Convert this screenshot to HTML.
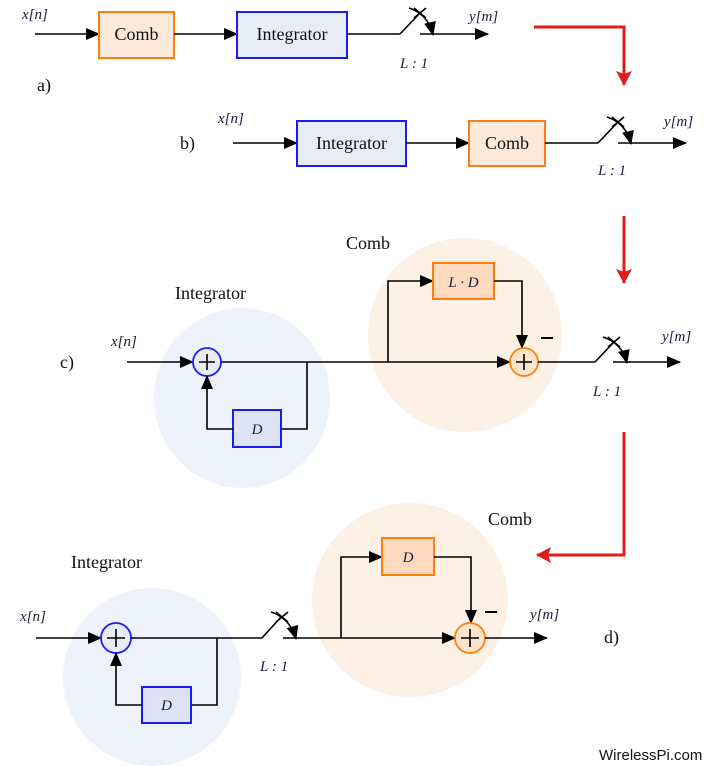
<!DOCTYPE html>
<html><head><meta charset="utf-8"><style>
html,body{margin:0;padding:0;background:#fff;}
svg{display:block;}
text{font-family:"Liberation Serif","DejaVu Serif",serif;fill:#111;}
.m{font-style:italic;fill:#1a1a3a;}
</style></head><body>
<svg width="709" height="766" viewBox="0 0 709 766" xmlns="http://www.w3.org/2000/svg">
<defs>
<marker id="a" markerWidth="14" markerHeight="12" refX="13" refY="6" orient="auto" markerUnits="userSpaceOnUse"><path d="M0,0 L14,6 L0,12 z" fill="#000"/></marker>
<marker id="r" markerWidth="16" markerHeight="16" refX="14" refY="8" orient="auto" markerUnits="userSpaceOnUse"><path d="M0,0 L15,8 L0,16 L3,8 z" fill="#e01b1b"/></marker>
</defs>
<g stroke="#000" stroke-width="1.6" fill="none">
<ellipse cx="242" cy="398" rx="88" ry="90" fill="#eef2fa" stroke="none"/>
<ellipse cx="465" cy="335" rx="97" ry="97" fill="#fdf0e4" stroke="none"/>
<ellipse cx="152" cy="677" rx="89" ry="89" fill="#eef2fa" stroke="none"/>
<ellipse cx="410" cy="600" rx="98" ry="97" fill="#fdf0e4" stroke="none"/>

<line x1="35" y1="34" x2="99" y2="34" marker-end="url(#a)"/>
<rect x="99" y="12" width="75" height="46" fill="#fde9d9" stroke="#ff7f0e" stroke-width="2"/>
<line x1="174" y1="34" x2="237" y2="34" marker-end="url(#a)"/>
<rect x="237" y="12" width="110" height="46" fill="#e8ecf7" stroke="#1c1cf0" stroke-width="2"/>
<line x1="347" y1="34" x2="400" y2="34"/>
<line x1="400" y1="34" x2="420" y2="13"/>
<path d="M414,8 L426,18 M426,8 L414,18"/>
<path d="M409,8 Q428,14 433,35" marker-end="url(#a)"/>
<line x1="420" y1="34" x2="488" y2="34" marker-end="url(#a)"/>

<line x1="233" y1="143" x2="297" y2="143" marker-end="url(#a)"/>
<rect x="297" y="121" width="109" height="45" fill="#e8ecf7" stroke="#1c1cf0" stroke-width="2"/>
<line x1="406" y1="143" x2="469" y2="143" marker-end="url(#a)"/>
<rect x="469" y="121" width="76" height="45" fill="#fde9d9" stroke="#ff7f0e" stroke-width="2"/>
<line x1="545" y1="143" x2="598" y2="143"/>
<line x1="598" y1="143" x2="618" y2="122"/>
<path d="M612,117 L624,127 M624,117 L612,127"/>
<path d="M607,117 Q626,123 631,144" marker-end="url(#a)"/>
<line x1="618" y1="143" x2="686" y2="143" marker-end="url(#a)"/>

<g stroke="#e01b1b" stroke-width="3">
<polyline points="534,27 624,27 624,85" marker-end="url(#r)"/>
<line x1="624" y1="216" x2="624" y2="283" marker-end="url(#r)"/>
<polyline points="624,432 624,555 537,555" marker-end="url(#r)"/>
</g>

<line x1="127" y1="362" x2="193" y2="362" marker-end="url(#a)"/>
<circle cx="207" cy="362" r="14" fill="#e8ecf7" stroke="#1c1cf0" stroke-width="1.8"/>
<path d="M199,362 H215 M207,354 V370"/>
<line x1="221" y1="362" x2="510" y2="362" marker-end="url(#a)"/>
<polyline points="307,362 307,429 281,429"/>
<rect x="233" y="410" width="48" height="37" fill="#dde3f3" stroke="#1c1cf0" stroke-width="2"/>
<polyline points="233,429 207,429 207,376" marker-end="url(#a)"/>
<polyline points="388,362 388,281 433,281" marker-end="url(#a)"/>
<rect x="433" y="263" width="61" height="36" fill="#fdd9bd" stroke="#ff7f0e" stroke-width="2"/>
<polyline points="494,281 522,281 522,348" marker-end="url(#a)"/>
<circle cx="524" cy="362" r="14" fill="#fde3cc" stroke="#ff7f0e" stroke-width="1.8"/>
<path d="M516,362 H532 M524,354 V370"/>
<line x1="541" y1="338" x2="553" y2="338" stroke-width="2"/>
<line x1="538" y1="362" x2="595" y2="362"/>
<line x1="595" y1="362" x2="614" y2="342"/>
<path d="M608,337 L620,347 M620,337 L608,347"/>
<path d="M603,337 Q622,343 627,363" marker-end="url(#a)"/>
<line x1="613" y1="362" x2="680" y2="362" marker-end="url(#a)"/>

<line x1="36" y1="638" x2="101" y2="638" marker-end="url(#a)"/>
<circle cx="116" cy="638" r="15" fill="#e8ecf7" stroke="#1c1cf0" stroke-width="1.8"/>
<path d="M107,638 H125 M116,629 V647"/>
<line x1="131" y1="638" x2="262" y2="638"/>
<polyline points="217,638 217,705 191,705"/>
<rect x="142" y="687" width="49" height="36" fill="#dde3f3" stroke="#1c1cf0" stroke-width="2"/>
<polyline points="142,705 116,705 116,653" marker-end="url(#a)"/>
<line x1="262" y1="638" x2="281" y2="617"/>
<path d="M276,612 L288,622 M288,612 L276,622"/>
<path d="M271,612 Q290,618 296,639" marker-end="url(#a)"/>
<line x1="283" y1="638" x2="455" y2="638" marker-end="url(#a)"/>
<polyline points="341,638 341,557 382,557" marker-end="url(#a)"/>
<rect x="382" y="538" width="52" height="37" fill="#fdd9bd" stroke="#ff7f0e" stroke-width="2"/>
<polyline points="434,557 471,557 471,623" marker-end="url(#a)"/>
<circle cx="470" cy="638" r="15" fill="#fde3cc" stroke="#ff7f0e" stroke-width="1.8"/>
<path d="M461,638 H479 M470,629 V647"/>
<line x1="485" y1="612" x2="497" y2="612" stroke-width="2"/>
<line x1="485" y1="638" x2="547" y2="638" marker-end="url(#a)"/>
</g>

<g font-size="18">
<text x="136.5" y="40" text-anchor="middle">Comb</text>
<text x="292" y="40" text-anchor="middle">Integrator</text>
<text x="351.5" y="149" text-anchor="middle">Integrator</text>
<text x="507" y="149" text-anchor="middle">Comb</text>
<text x="175" y="299">Integrator</text>
<text x="346" y="249">Comb</text>
<text x="71" y="568">Integrator</text>
<text x="488" y="525">Comb</text>
<text x="37" y="91">a)</text>
<text x="180" y="149">b)</text>
<text x="60" y="368">c)</text>
<text x="604" y="643">d)</text>
</g>
<g font-size="15">
<text class="m" x="22" y="19">x[n]</text>
<text class="m" x="469" y="21">y[m]</text>
<text class="m" x="400" y="68">L : 1</text>
<text class="m" x="218" y="123">x[n]</text>
<text class="m" x="664" y="126">y[m]</text>
<text class="m" x="598" y="175">L : 1</text>
<text class="m" x="111" y="346">x[n]</text>
<text class="m" x="662" y="341">y[m]</text>
<text class="m" x="593" y="396">L : 1</text>
<text class="m" x="463.5" y="287" text-anchor="middle">L · D</text>
<text class="m" x="257" y="434" text-anchor="middle">D</text>
<text class="m" x="20" y="621">x[n]</text>
<text class="m" x="530" y="619">y[m]</text>
<text class="m" x="260" y="671">L : 1</text>
<text class="m" x="408" y="562" text-anchor="middle">D</text>
<text class="m" x="166.5" y="710" text-anchor="middle">D</text>
</g>
<text x="599" y="760" font-size="15" style="font-family:'Liberation Sans',sans-serif" fill="#666">WirelessPi.com</text>
</svg>
</body></html>
